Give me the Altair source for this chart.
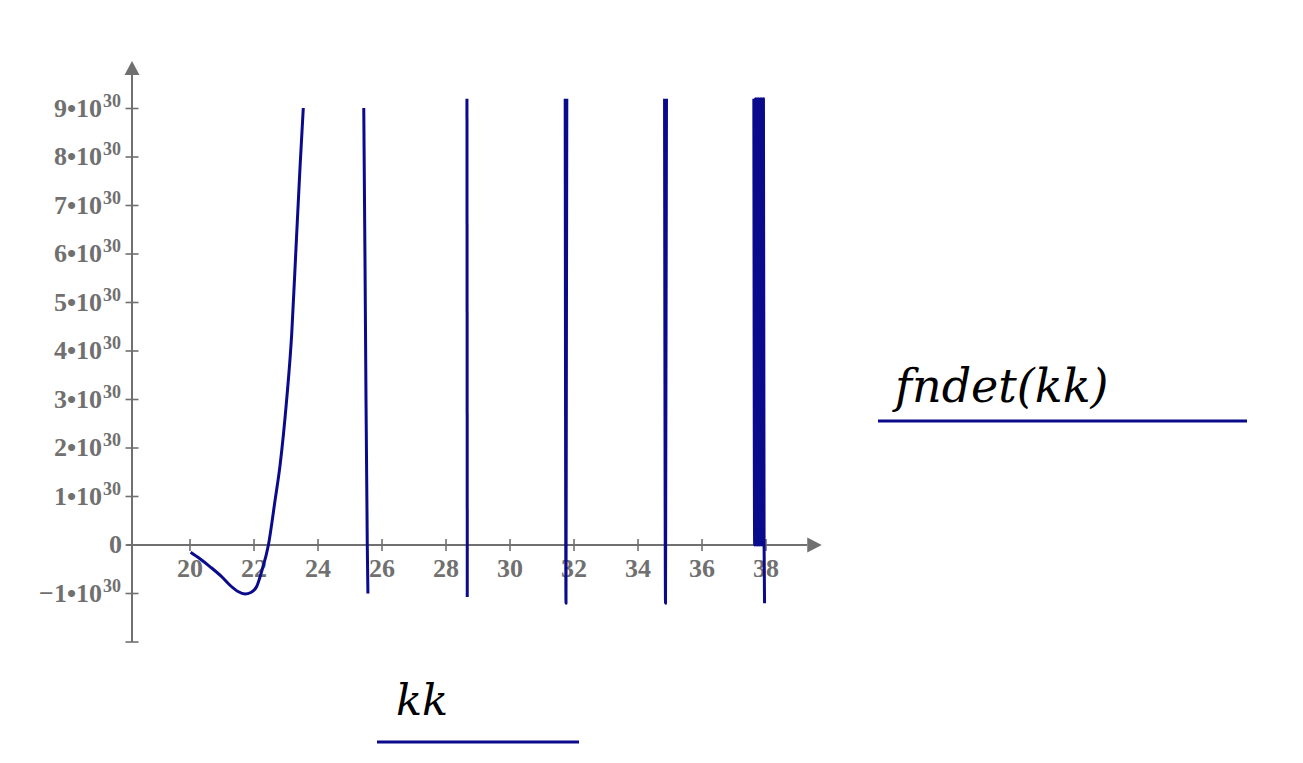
import altair as alt
import pandas as pd

# ---------------- data ----------------
# main curve branch (kk, fndet)
curve1_kk = [20.02, 20.30, 20.63, 21.00, 21.25, 21.50, 21.72, 21.90, 22.08, 22.25,
             22.45, 22.66, 22.81, 23.02, 23.18, 23.31, 23.44, 23.54]
curve1_f = [-0.15e30, -0.28e30, -0.45e30, -0.66e30, -0.83e30, -0.96e30, -1.01e30, -0.98e30,
            -0.86e30, -0.52e30, 0.0, 0.93e30, 1.62e30, 2.99e30, 4.37e30, 6.09e30, 7.81e30, 9.01e30]
# second branch
curve2_kk = [25.43, 25.47, 25.50, 25.54, 25.56]
curve2_f = [9.01e30, 5.74e30, 2.99e30, 0.0, -1.0e30]
# near-vertical branches
curve3_kk = [28.655, 28.665]
curve3_f = [9.2e30, -1.07e30]
curve4_kk = [31.725, 31.750, 31.775]
curve4_f = [9.2e30, -1.2e30, 9.2e30]
curve5_kk = [34.830, 34.860, 34.890]
curve5_f = [9.2e30, -1.2e30, 9.2e30]
# rapidly oscillating region near 37.8
curve6_kk = [37.62, 37.645, 37.67, 37.695, 37.72, 37.745, 37.77, 37.795, 37.82, 37.845,
             37.87, 37.895, 37.92, 37.94, 37.955]
curve6_f = [9.2e30, 0.0, 9.2e30, 0.0, 9.2e30, 0.0, 9.2e30, 0.0, 9.2e30, 0.0,
            9.2e30, 0.0, 9.2e30, 0.0, -1.2e30]

x_tick_values = [20, 22, 24, 26, 28, 30, 32, 34, 36, 38]
x_tick_labels = ["20", "22", "24", "26", "28", "30", "32", "34", "36", "38"]
y_tick_values = [-2e30, -1e30, 0.0, 1e30, 2e30, 3e30, 4e30, 5e30, 6e30, 7e30, 8e30, 9e30]
y_label_values = [-1e30, 1e30, 2e30, 3e30, 4e30, 5e30, 6e30, 7e30, 8e30, 9e30]
y_label_main = ["\u22121\u202210", "1\u202210", "2\u202210", "3\u202210", "4\u202210",
                "5\u202210", "6\u202210", "7\u202210", "8\u202210", "9\u202210"]
y_label_exp = ["30"] * 10
zero_label = ["0"]

y_axis_at = 18.1875          # kk value where the y axis crosses
x_axis_range = [18.02, 39.29]
y_axis_range = [-2e30, 9.69e30]

y_title = "fndet(kk)"
x_title = "kk"

# ---------------- styles ----------------
BLUE = "#0a0a8c"
GRAY = "#707070"
LABEL_FONT = "Liberation Serif"
MATH_FONT = "DejaVu Serif"

xs = alt.Scale(domain=[14.3125, 54.53125], nice=False, zero=False)
ys = alt.Scale(domain=[-4.3299e30, 11.0722e30], nice=False, zero=False)

# ---------------- tables ----------------
rows = []
for seg, (kx, fy) in enumerate([(curve1_kk, curve1_f), (curve2_kk, curve2_f),
                                (curve3_kk, curve3_f), (curve4_kk, curve4_f),
                                (curve5_kk, curve5_f), (curve6_kk, curve6_f)]):
    for i, (a, b) in enumerate(zip(kx, fy)):
        rows.append({"seg": seg, "i": i, "kk": a, "fndet": b})
curve_df = pd.DataFrame(rows)

xaxis_df = pd.DataFrame({"x": [x_axis_range[0]], "x2": [x_axis_range[1]], "y": [0.0]})
yaxis_df = pd.DataFrame({"x": [y_axis_at], "y": [y_axis_range[0]], "y2": [y_axis_range[1]]})
xt_df = pd.DataFrame({"x": x_tick_values, "label": x_tick_labels, "y": [0.0] * len(x_tick_values)})
yt_df = pd.DataFrame({"x": [y_axis_at] * len(y_tick_values), "y": y_tick_values})
yl_df = pd.DataFrame({"y": y_label_values, "main": y_label_main, "exp": y_label_exp})
zero_df = pd.DataFrame({"y": [0.0], "main": zero_label})
yarrow_df = pd.DataFrame({"x": [y_axis_at], "y": [y_axis_range[1]]})
xarrow_df = pd.DataFrame({"x": [x_axis_range[1]], "y": [0.0]})
ytitle_df = pd.DataFrame({"t": [y_title]})
xtitle_df = pd.DataFrame({"t": [x_title]})

X = lambda f: alt.X(f, type="quantitative", scale=xs, axis=None)
Y = lambda f: alt.Y(f, type="quantitative", scale=ys, axis=None)

x_axis = alt.Chart(xaxis_df).mark_rule(color=GRAY, strokeWidth=2).encode(
    x=X("x"), x2="x2", y=Y("y"))
y_axis = alt.Chart(yaxis_df).mark_rule(color=GRAY, strokeWidth=2).encode(
    x=X("x"), y=Y("y"), y2="y2")
x_ticks = alt.Chart(xt_df).mark_tick(orient="vertical", size=12, thickness=1.6, color=GRAY, opacity=1).encode(
    x=X("x"), y=Y("y"))
y_ticks = alt.Chart(yt_df).mark_tick(orient="horizontal", size=13, thickness=1.6, color=GRAY, opacity=1).encode(
    x=X("x"), y=Y("y"))
x_labels = alt.Chart(xt_df).mark_text(align="center", baseline="alphabetic", dy=32,
                                      font=LABEL_FONT, fontSize=26, fontWeight="bold", color=GRAY).encode(
    x=X("x"), y=Y("y"), text="label")
y_labels = alt.Chart(yl_df).mark_text(align="right", baseline="alphabetic", dy=8,
                                      font=LABEL_FONT, fontSize=26, fontWeight="bold", color=GRAY).encode(
    x=alt.value(94), y=Y("y"), text="main")
y_exps = alt.Chart(yl_df).mark_text(align="left", baseline="alphabetic", dy=-2, dx=1,
                                    font=LABEL_FONT, fontSize=18, fontWeight="bold", color=GRAY).encode(
    x=alt.value(94), y=Y("y"), text="exp")
zero_lab = alt.Chart(zero_df).mark_text(align="right", baseline="alphabetic", dy=8,
                                        font=LABEL_FONT, fontSize=26, fontWeight="bold", color=GRAY).encode(
    x=alt.value(114), y=Y("y"), text="main")
y_arrow = alt.Chart(yarrow_df).mark_point(shape="M-1,0L1,0L0,-1.87Z", size=225, filled=True,
                                          color=GRAY, opacity=1, strokeWidth=0).encode(x=X("x"), y=Y("y"))
x_arrow = alt.Chart(xarrow_df).mark_point(shape="M0,-1L0,1L1.93,0Z", size=225, filled=True,
                                          color=GRAY, opacity=1, strokeWidth=0).encode(x=X("x"), y=Y("y"))

curve = alt.Chart(curve_df).mark_line(color=BLUE, strokeWidth=3, strokeJoin="round",
                                      interpolate="monotone").encode(
    x=X("kk"), y=Y("fndet"), detail="seg:N", order="i:Q")

y_title_t = alt.Chart(ytitle_df).mark_text(align="left", baseline="alphabetic", font=MATH_FONT,
                                           fontStyle="italic", fontSize=46, color="black").encode(
    x=alt.value(887), y=alt.value(394), text="t")
y_title_line = alt.Chart(ytitle_df).mark_rule(color=BLUE, strokeWidth=3).encode(
    x=alt.value(870), x2=alt.value(1239), y=alt.value(413))
x_title_t = alt.Chart(xtitle_df).mark_text(align="left", baseline="alphabetic", font=MATH_FONT,
                                           fontStyle="italic", fontSize=43, color="black").encode(
    x=alt.value(388), y=alt.value(707), text="t")
x_title_line = alt.Chart(xtitle_df).mark_rule(color=BLUE, strokeWidth=3).encode(
    x=alt.value(369), x2=alt.value(571), y=alt.value(734))

chart = alt.layer(
    x_axis, y_axis, x_ticks, y_ticks, x_labels, y_labels, y_exps, zero_lab,
    y_arrow, x_arrow, curve, y_title_t, y_title_line, x_title_t, x_title_line
).properties(
    width=1287, height=747, padding=0,
    autosize=alt.AutoSizeParams(type="none"),
    background="white"
).configure_view(stroke="transparent")

chart.save("out.html", embed_options={"renderer": "svg", "actions": False})
